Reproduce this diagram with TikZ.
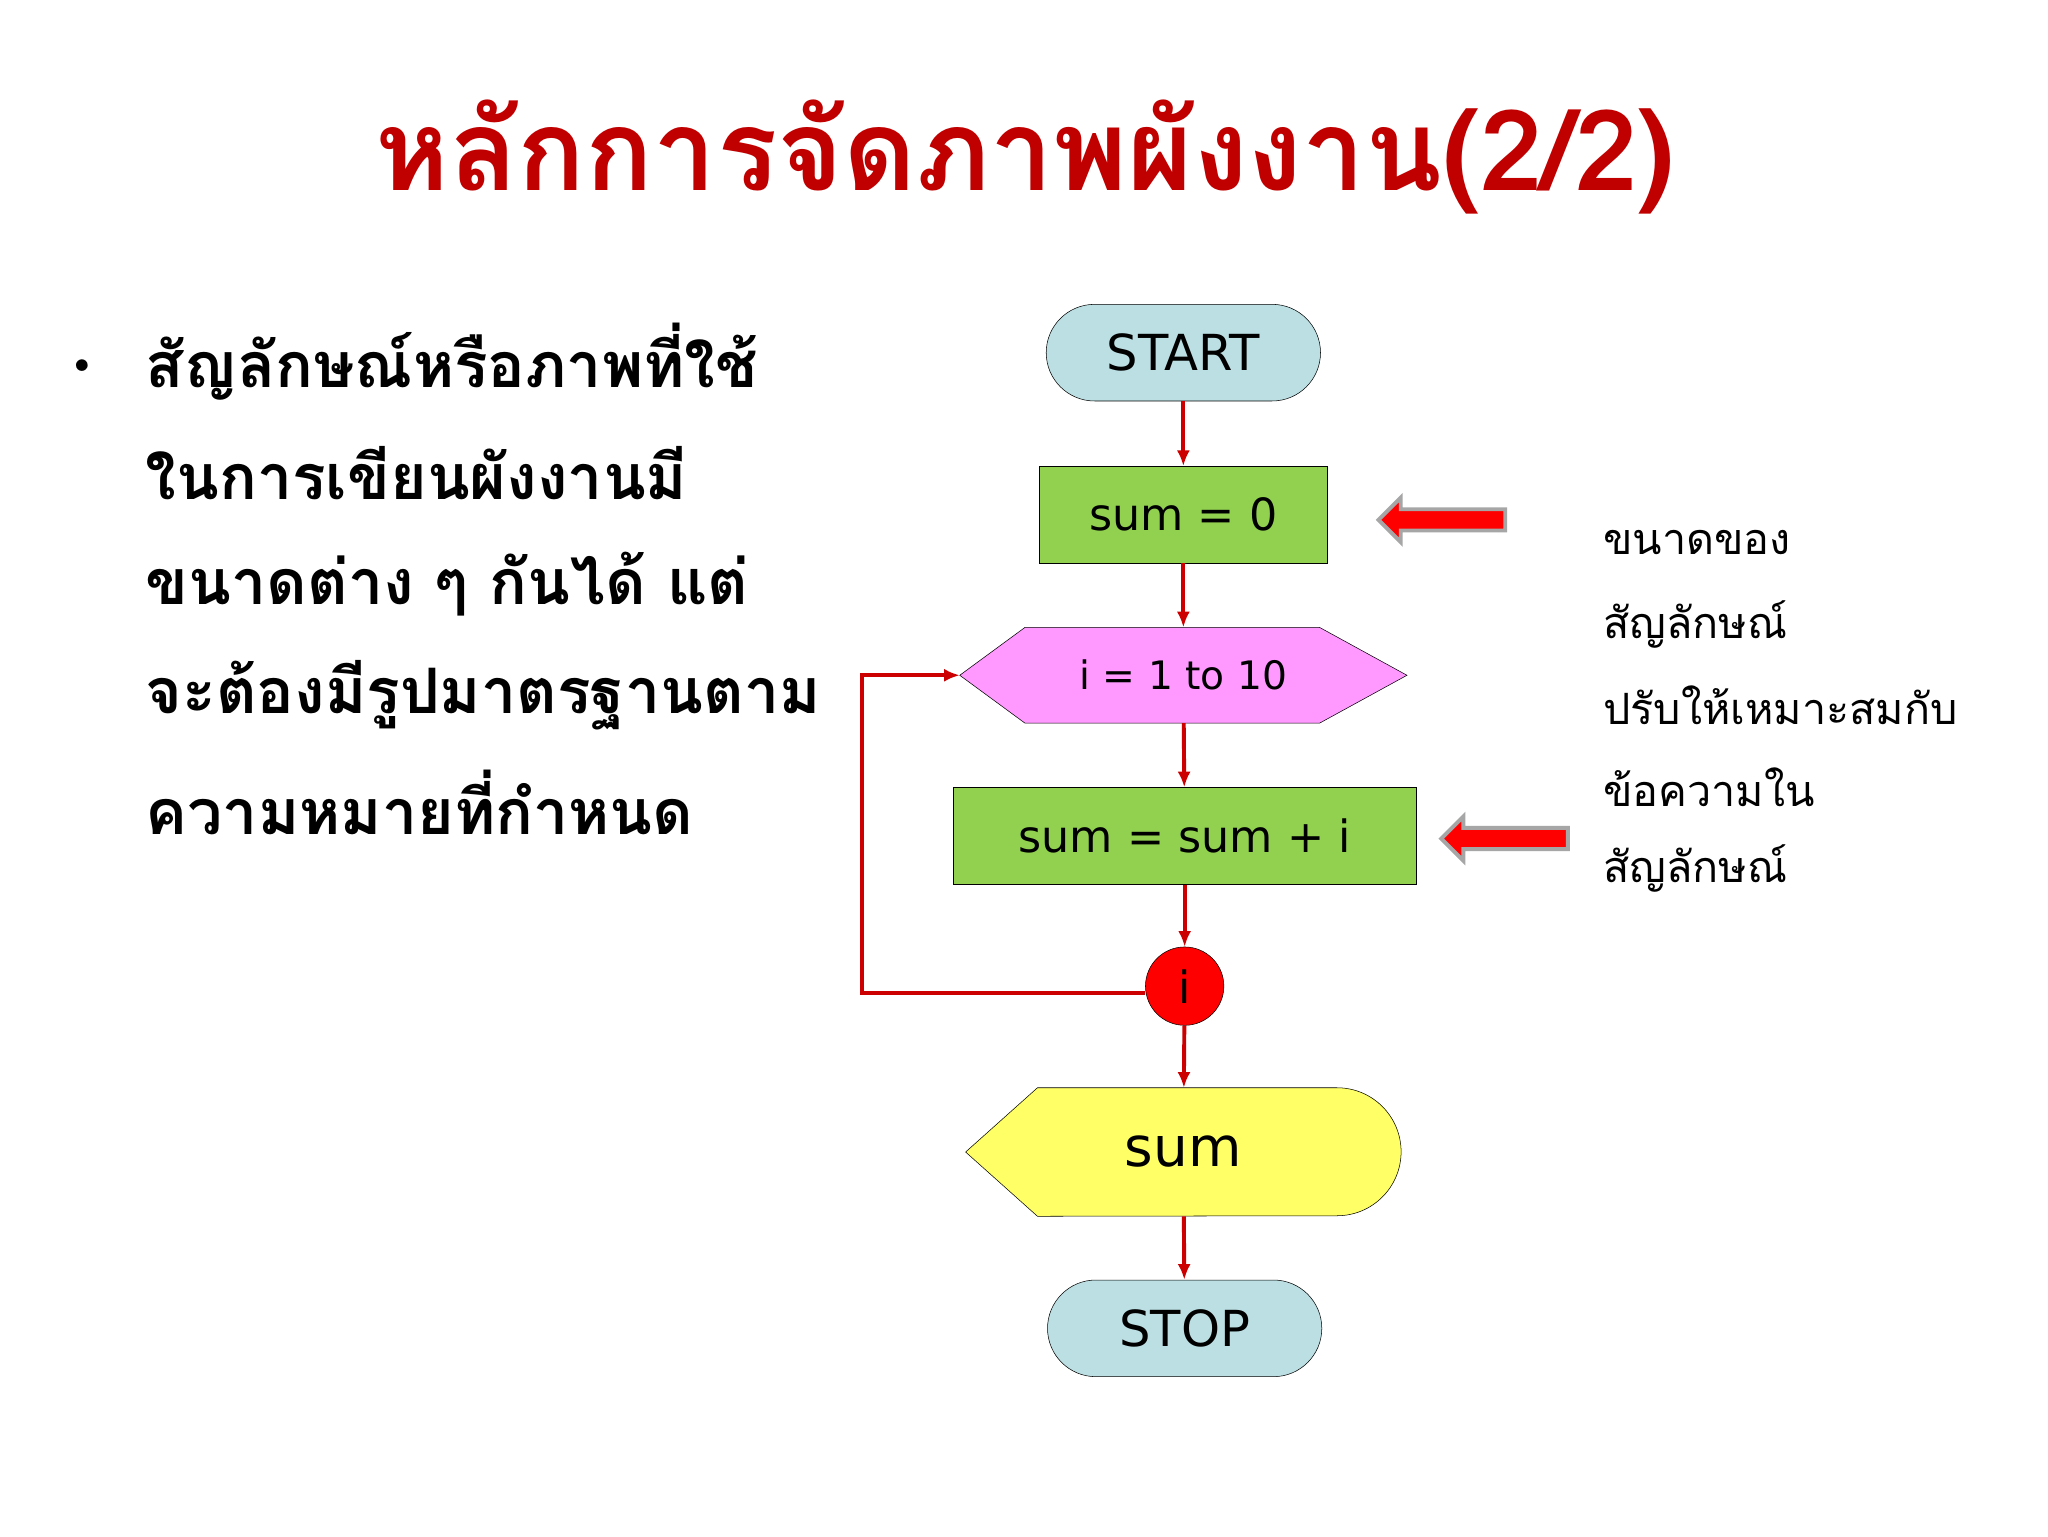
\documentclass[tikz,border=0pt]{standalone}
\usepackage{fontspec}
\setsansfont{DejaVu Sans}
\newfontfamily\thaifont[Script=Thai]{Loma}
\usetikzlibrary{positioning,arrows.meta,shapes.arrows}
\definecolor{titlered}{HTML}{C00000}
\definecolor{flowred}{HTML}{CC0000}
\definecolor{termblue}{HTML}{BCDFE3}
\definecolor{procgreen}{HTML}{92D050}
\definecolor{loopviolet}{HTML}{FF99FF}
\definecolor{outyellow}{HTML}{FFFF66}
\tikzset{
    term/.style={%
        draw, rounded corners=37pt, fill=termblue,
        minimum width=210pt, minimum height=74pt,
        font=\sffamily\fontsize{38}{40}\selectfont
        },
    proc/.style={%
        draw, fill=procgreen,
        minimum width=#1, minimum height=74pt,
        font=\sffamily\fontsize{34}{36}\selectfont
        },
    proc/.default=220pt,
    flow/.style={-{Latex[length=12pt,width=10pt]}, draw=flowred, line width=3pt},
    hint/.style={single arrow, shape border rotate=180, fill=red, draw=gray!70,
        line width=3pt, minimum height=97pt, minimum width=34pt,
        single arrow head extend=6pt, inner sep=4pt},
    thaitext/.style={anchor=west, font=\thaifont\fontsize{#1}{#1}\selectfont},
    bullettext/.style={anchor=west, font=\thaifont\bfseries\fontsize{48}{48}\selectfont},
    >=Latex
}
\begin{document}
\begin{tikzpicture}[x=1pt,y=-1pt]
\useasboundingbox[fill=white] (0,0) rectangle (1568,1176);

% title
\node[font=\thaifont\bfseries\fontsize{86}{86}\selectfont, text=titlered] (title) at (785,120) {หลักการจัดภาพผังงาน(2/2)};

% bullet text
\node[font=\fontsize{40}{40}\selectfont] (bullet) at (63,283) {\textbullet};
\node[bullettext] (l1) at (108,277) {สัญลักษณ์หรือภาพที่ใช้};
\node[bullettext] (l2) at (108,362) {ในการเขียนผังงานมี};
\node[bullettext] (l3) at (108,447) {ขนาดต่าง ๆ กันได้ แต่};
\node[bullettext] (l4) at (108,532) {จะต้องมีรูปมาตรฐานตาม};
\node[bullettext] (l5) at (108,614) {ความหมายที่กำหนด};

% flowchart
\node[term] (start) at (906,270) {START};
\node[proc] (init) at (906,394) {sum = 0};
\node[minimum width=342pt, minimum height=73pt] (loop) at (906,517) {};
\draw[fill=loopviolet] (loop.west) -- ([xshift=50pt]loop.north west) -- ([xshift=-67pt]loop.north east)
  -- (loop.east) -- ([xshift=-67pt]loop.south east) -- ([xshift=50pt]loop.south west) -- cycle;
\node[font=\sffamily\fontsize{30}{32}\selectfont] at (loop) {i = 1 to 10};
\node[proc=355pt] (add) at (907,640) {sum = sum + i};
\node[draw, circle, fill=red, minimum size=60pt, inner sep=0pt,
  font=\sffamily\fontsize{34}{36}\selectfont] (next) at (907,755) {i};
\node[minimum width=333pt, minimum height=98pt] (out) at (906,882) {};
\draw[fill=outyellow] (out.west) -- ([xshift=55pt]out.north west) -- ([xshift=-49pt]out.north east)
  arc[start angle=90, end angle=-90, radius=49pt] -- ([xshift=55pt]out.south west) -- cycle;
\node[font=\sffamily\fontsize{42}{44}\selectfont] at (out) {sum};
\node[term] (stop) at (907,1017) {STOP};

\draw[flow] (start) -- (init);
\draw[flow] (init) -- (loop);
\draw[flow] (loop) -- (add);
\draw[flow] (add) -- (next);
\draw[flow] (next) -- (out);
\draw[flow] (out) -- (stop);
\draw[flow] ([yshift=-5pt]next.west) -- ++(-217,0) |- (loop.west);

% hints
\node[hint] (hint1) at (1108,398) {};
\node[hint] (hint2) at (1156,642) {};
\node[thaitext=33] (r1) at (1224,415) {ขนาดของ};
\node[thaitext=33] (r2) at (1224,478) {สัญลักษณ์};
\node[thaitext=33] (r3) at (1224,540) {ปรับให้เหมาะสมกับ};
\node[thaitext=33] (r4) at (1224,603) {ข้อความใน};
\node[thaitext=33] (r5) at (1224,665) {สัญลักษณ์};
\end{tikzpicture}
\end{document}
